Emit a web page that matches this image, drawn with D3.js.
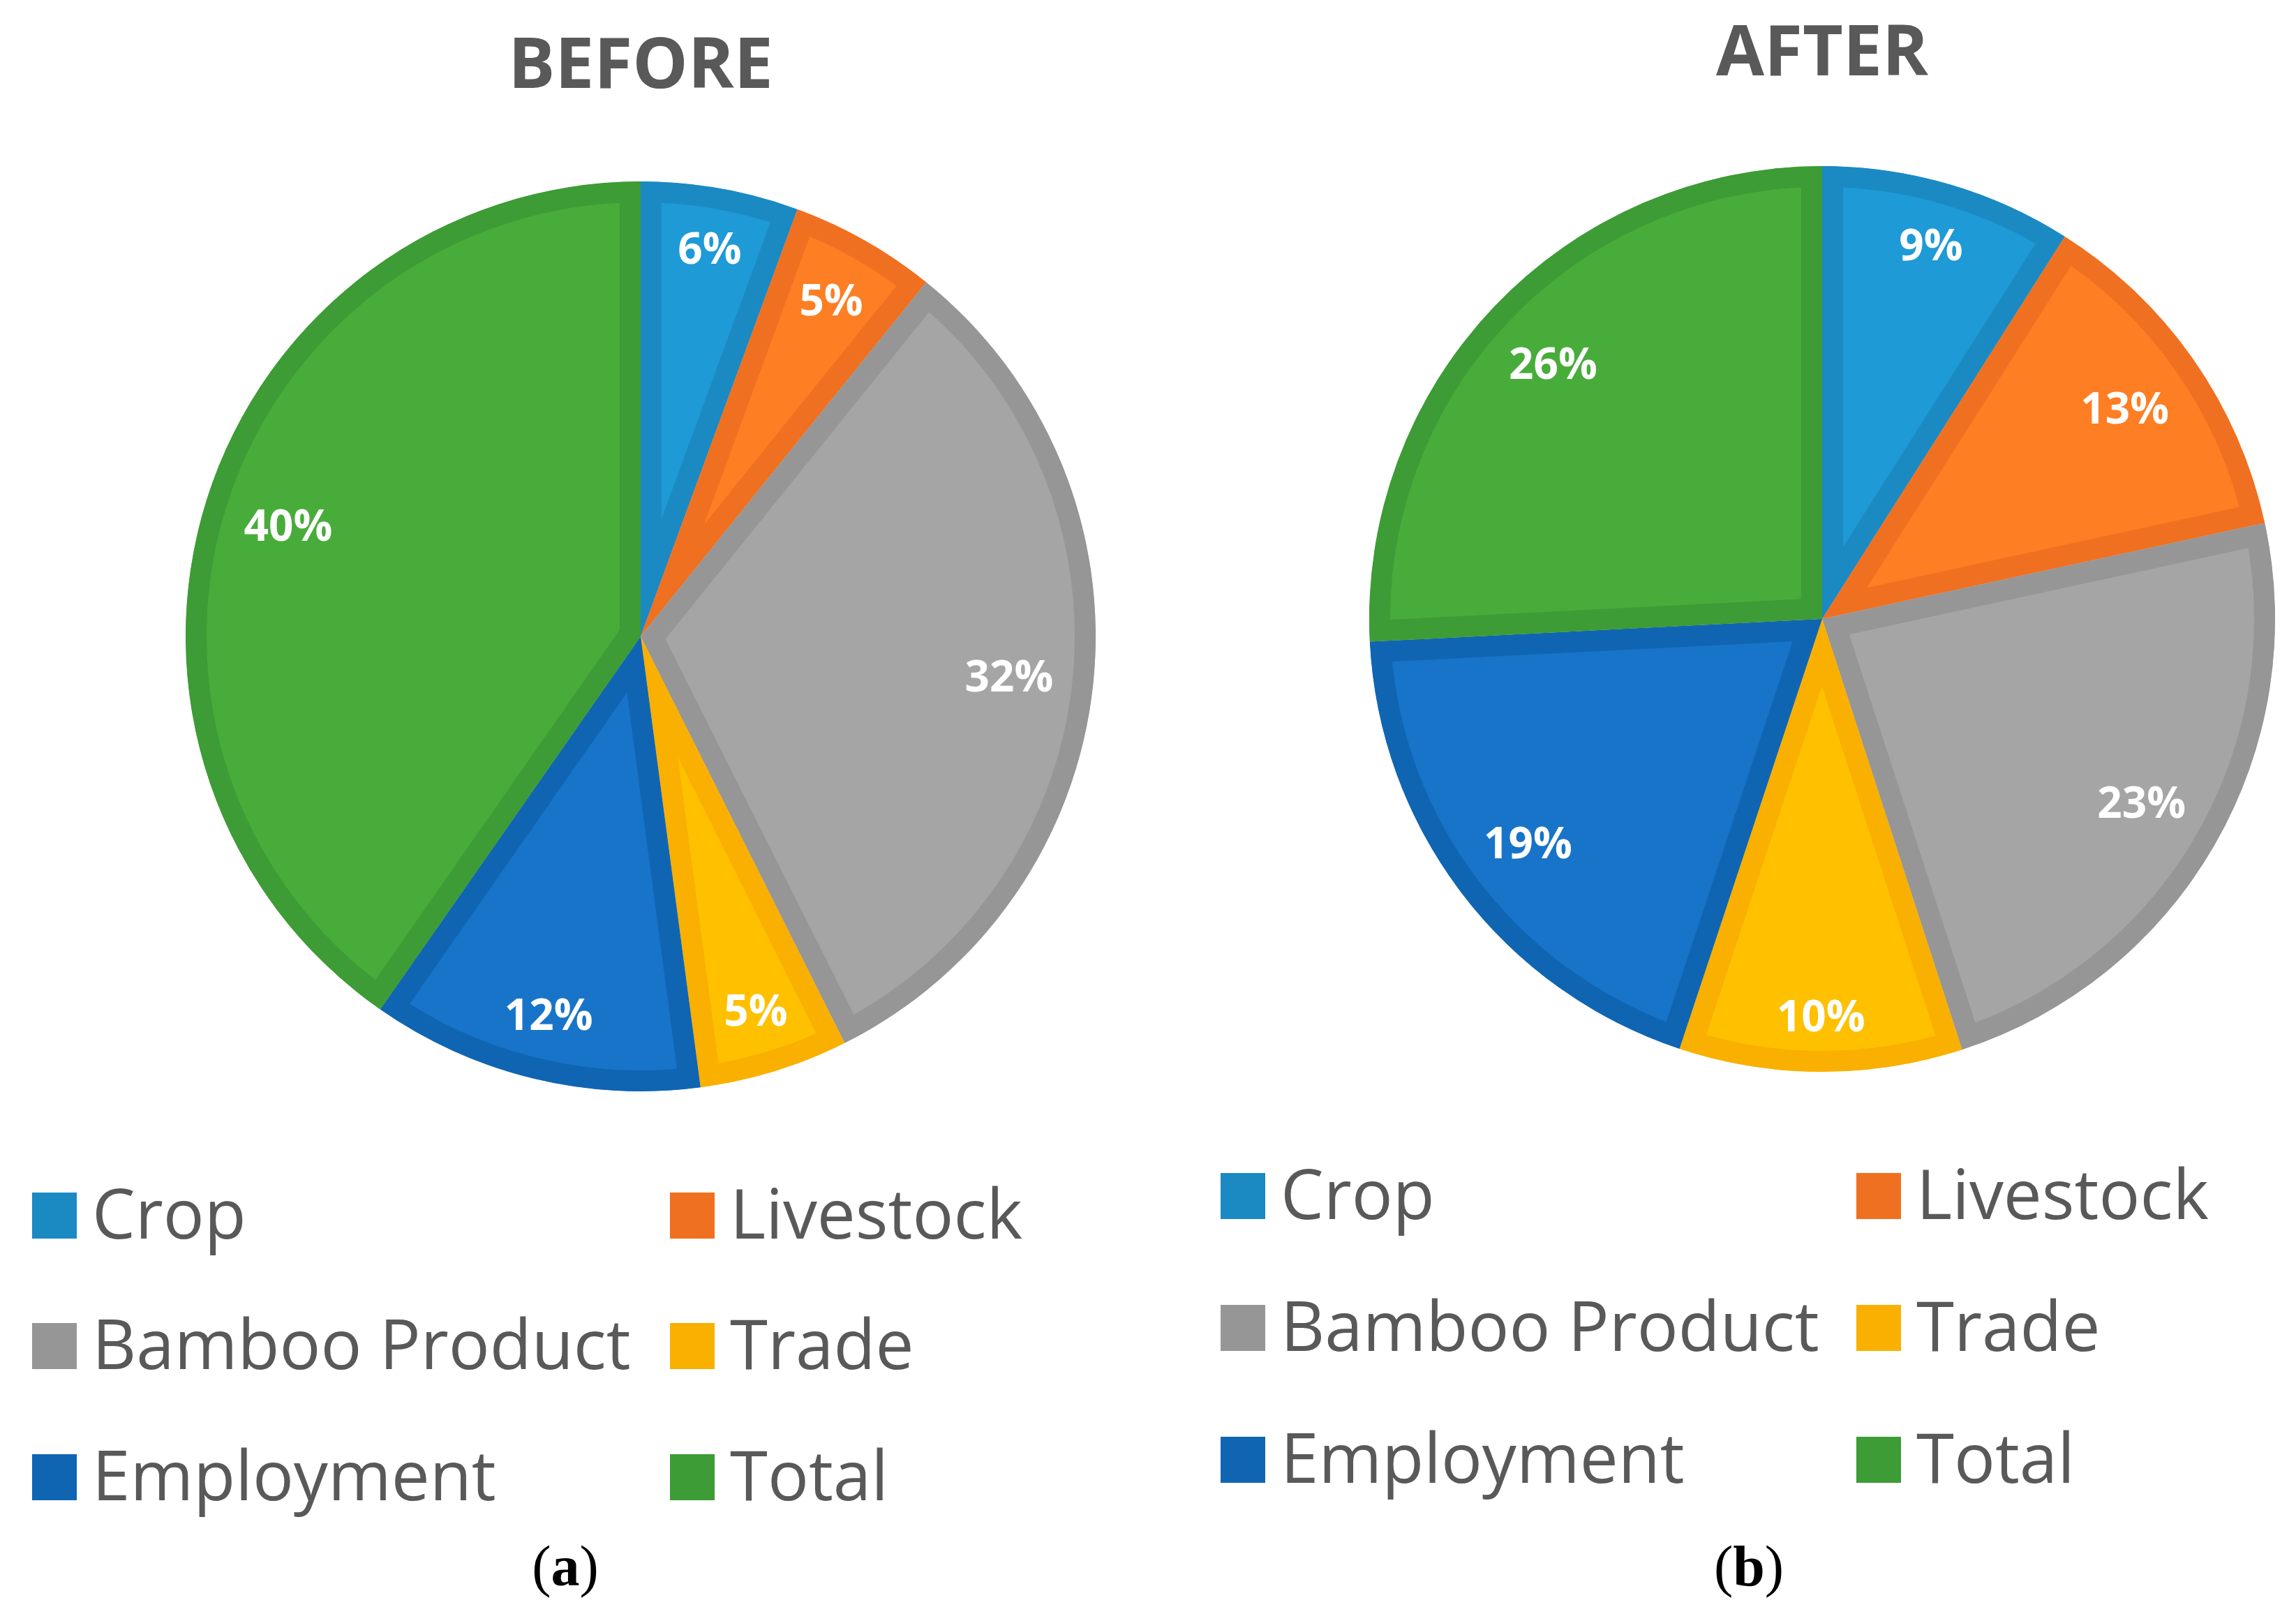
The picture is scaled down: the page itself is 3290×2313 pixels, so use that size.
<!doctype html>
<html lang="en">
<head>
    <meta charset="UTF-8">
    <title>Before / After pies</title>
    <script src="https://cdn.jsdelivr.net/npm/d3@7"></script>
    <style>
        body { margin: 0; background: #fff; }
        svg { display: block; }
    </style>
</head>
<body>
<div id="chart"></div>
<script>

    //data (percent shares)
    const categories = ["Crop", "Livestock", "Bamboo Product", "Trade", "Employment", "Total"];
    const beforeValues = [5.6, 5.2, 31.8, 5.3, 11.8, 40.3];
    const afterValues = [9.0, 12.6, 23.4, 10.1, 19.1, 25.8];
    const panelTitles = ["BEFORE", "AFTER"];
    const panelCaptions = ["a", "b"];

    //excel-ish colours: fill and a darker inner border
    const fillColors = ["#1e9ad6", "#fd7e23", "#a5a5a5", "#ffc000", "#1874c8", "#48ac3a"];
    const borderColors = ["#1b8ac3", "#f07021", "#969696", "#f9b000", "#1065b3", "#3d9c35"];

    const W = 3290, H = 2313;

    let svg = d3.select("#chart").append("svg")
        .attr("width", W)
        .attr("height", H);

    let color = d3.scaleOrdinal().domain(categories).range(fillColors);
    let border = d3.scaleOrdinal().domain(categories).range(borderColors);

    let pie = d3.pie()
        .sort(null)
        .value(function (d) { return d.value; });

    let fmt = d3.format(".0%");

    //one panel per pie
    let panels = [
        {values: beforeValues, cx: 918, cy: 912, r: 652, titleY: 126,
            legendX: [46, 960], legendY: [1775, 1962, 2150], captionX: 810},
        {values: afterValues, cx: 2611, cy: 887, r: 649, titleY: 108,
            legendX: [1749, 2660], legendY: [1747, 1936, 2125], captionX: 2506}
    ];

    panels.forEach(function (p, pi) {

        let data = categories.map(function (c, i) { return {name: c, value: p.values[i]}; });
        let total = d3.sum(p.values);

        let arc = d3.arc().innerRadius(0).outerRadius(p.r);

        //title
        svg.append("text")
            .attr("x", p.cx)
            .attr("y", p.titleY)
            .attr("text-anchor", "middle")
            .style("font-family", "'Open Sans', sans-serif")
            .style("font-weight", 700)
            .style("font-size", "100px")
            .style("fill", "#595959")
            .text(panelTitles[pi]);

        let g = svg.append("g")
            .attr("transform", "translate(" + p.cx + "," + p.cy + ")");

        let slices = g.selectAll(".slice")
            .data(pie(data))
            .enter()
            .append("g")
            .attr("class", "slice");

        //clip so the border stays inside each slice
        slices.append("clipPath")
            .attr("id", function (d, i) { return "clip" + pi + "_" + i; })
            .append("path")
            .attr("d", arc);

        slices.append("path")
            .attr("d", arc)
            .attr("fill", function (d) { return color(d.data.name); })
            .attr("stroke", function (d) { return border(d.data.name); })
            .attr("stroke-width", 60)
            .attr("stroke-linejoin", "miter")
            .attr("clip-path", function (d, i) { return "url(#clip" + pi + "_" + i + ")"; });

        //labels, placed "inside end" like excel does
        let labels = slices.append("text")
            .attr("text-anchor", "middle")
            .attr("dy", "0.36em")
            .style("font-family", "'Open Sans', sans-serif")
            .style("font-weight", 700)
            .style("font-size", "62px")
            .style("fill", "#ffffff")
            .text(function (d) { return fmt(d.data.value / total); });

        let rIn = p.r * 0.915;
        labels.each(function (d) {
            let bb = this.getBBox();
            let w = bb.width / 2, h = 22;
            let mid = (d.startAngle + d.endAngle) / 2;
            let a = Math.abs(Math.sin(mid)), b = Math.abs(Math.cos(mid));
            let k = a * w + b * h;
            let dist = -k + Math.sqrt(k * k - (w * w + h * h - rIn * rIn));
            d3.select(this)
                .attr("x", dist * Math.sin(mid))
                .attr("y", -dist * Math.cos(mid));
        });

        //legend, 2 columns x 3 rows
        let legend = svg.selectAll(".legend" + pi)
            .data(data)
            .enter()
            .append("g")
            .attr("class", "legend" + pi)
            .attr("transform", function (d, i) {
                return "translate(" + p.legendX[i % 2] + "," + p.legendY[Math.floor(i / 2)] + ")";
            });

        legend.append("rect")
            .attr("x", 0)
            .attr("y", -66)
            .attr("width", 64)
            .attr("height", 66)
            .attr("fill", function (d) { return border(d.name); });

        legend.append("text")
            .attr("x", 86)
            .attr("y", 0)
            .style("font-family", "'Open Sans', sans-serif")
            .style("font-size", "98px")
            .style("fill", "#595959")
            .text(function (d) { return d.name; });

        //caption under the panel, letter in bold
        let cap = svg.append("text")
            .attr("x", p.captionX)
            .attr("y", 2272)
            .attr("text-anchor", "middle")
            .style("font-family", "'Liberation Serif', serif")
            .style("font-size", "82px")
            .style("fill", "#000");
        cap.append("tspan").text("(");
        cap.append("tspan").style("font-weight", 700).text(panelCaptions[pi]);
        cap.append("tspan").text(")");
    });

</script>
</body>
</html>
